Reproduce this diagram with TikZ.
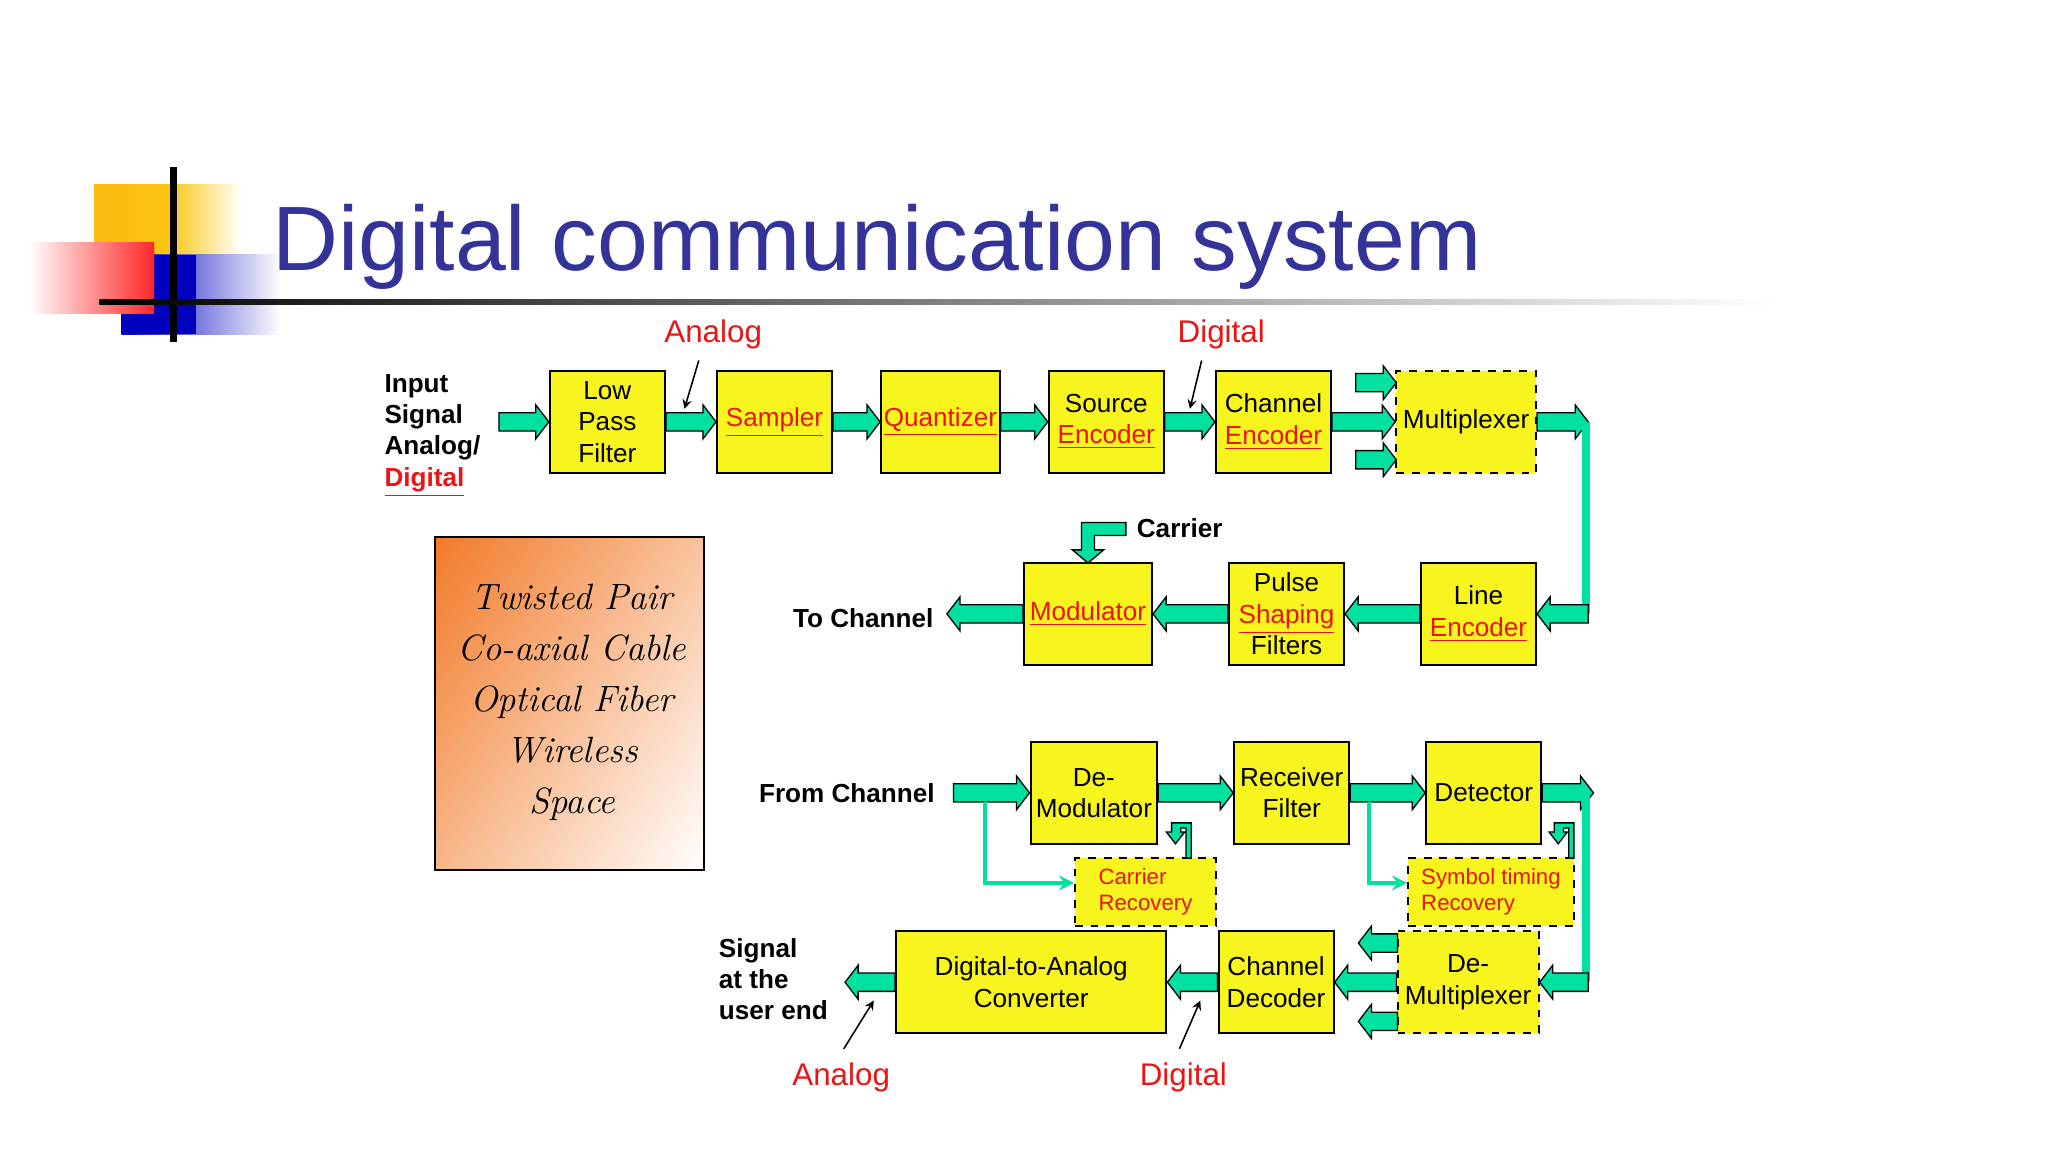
\documentclass[tikz,border=0pt]{standalone}
\usepackage{fontspec}
\setmainfont{Liberation Sans}
\usetikzlibrary{calc,shadings}
\definecolor{titleblue}{RGB}{51,51,153}
\definecolor{yel}{RGB}{248,244,30}
\definecolor{grn}{RGB}{0,224,160}
\definecolor{lred}{RGB}{235,20,20}
\definecolor{org}{RGB}{242,122,40}
\newcommand\redu[1]{\textcolor{lred}{\underline{#1}}}
\newcommand\harrow[2]{\draw[fat] let \p1=#1, \p2=#2, \n1={ifthenelse(\x2>\x1,1,-1)} in
  (\x1,\y1+3.5pt) -- (\x2-\n1*5pt,\y1+3.5pt) -- (\x2-\n1*5pt,\y1+6.5pt) -- (\x2,\y1) --
  (\x2-\n1*5pt,\y1-6.5pt) -- (\x2-\n1*5pt,\y1-3.5pt) -- (\x1,\y1-3.5pt) -- cycle;}
\begin{document}
\begin{tikzpicture}[x=0.5pt,y=-0.5pt,
  box/.style={draw, fill=yel, line width=0.8pt, align=center, inner sep=1pt,
    font=\fontsize{10}{12}\selectfont, minimum width=44pt, minimum height=39pt},
  dbox/.style={box, dashed},
  fat/.style={fill=grn, draw=black, line width=0.5pt},
  thin/.style={draw=grn, line width=1.5pt},
  lbl/.style={font=\bfseries\fontsize{10}{12}\selectfont, align=left, inner sep=0pt},
  rlbl/.style={text=lred, font=\fontsize{12}{14}\selectfont, inner sep=0pt},
  pt/.style={-stealth, line width=0.6pt}]
\useasboundingbox (0,0) rectangle (1568,882);
% decoration
\shade[left color=yel!50!orange, right color=white, middle color=yel!60!orange] (72,141) rectangle (185,230);
\shade[left color=blue!75!black, right color=white] (93,195) rectangle (215,256);
\fill[blue!75!black] (93,195) rectangle (150,256);
\shade[left color=white, right color=red!85] (22,186) rectangle (118,240);
\draw[line width=2.5pt] (133,128) -- (133,262);
\shade[left color=black, middle color=gray!70, right color=white] (76,229) rectangle (1360,233);
\node[anchor=base west, text=titleblue, font=\fontsize{35}{40}\selectfont, inner sep=0pt] (title) at (208,207) {Digital communication system};
% top row
\node[lbl, anchor=north west] (input) at (294,286) {Input\\Signal\\Analog/\\\redu{Digital}};
\node[box] (lpf) at (465,323) {Low\\Pass\\Filter};
\node[box] (samp) at (593,323) {\redu{Sampler}};
\node[box] (quant) at (720,323) {\redu{Quantizer}};
\node[box] (src) at (847,323) {Source\\\redu{Encoder}};
\node[box] (chenc) at (975,323) {Channel\\\redu{Encoder}};
\node[dbox, minimum width=53.5pt] (mux) at (1122.5,323) {Multiplexer};
\coordinate (inS) at (382,323);
\harrow{(inS)}{(lpf.west)}
\harrow{(lpf.east)}{(samp.west)}
\harrow{(samp.east)}{(quant.west)}
\harrow{(quant.east)}{(src.west)}
\harrow{(src.east)}{(chenc.west)}
\harrow{(chenc.east)}{(mux.west)}
\coordinate (m1) at (1038,293); \coordinate (m1e) at (1069,293);
\coordinate (m3) at (1038,352); \coordinate (m3e) at (1069,352);
\harrow{(m1)}{(m1e)}
\harrow{(m3)}{(m3e)}
\node[rlbl] (an1) at (546,256) {Analog};
\coordinate (an1a) at (535,276); \coordinate (an1b) at (524,313);
\draw[pt] (an1a) -- (an1b);
\node[rlbl] (dg1) at (935,256) {Digital};
\coordinate (dg1a) at (920,276); \coordinate (dg1b) at (911,313);
\draw[pt] (dg1a) -- (dg1b);
% row 2
\node[box, minimum width=49pt] (mod) at (833,470) {\redu{Modulator}};
\node[box] (pulse) at (985,470) {Pulse\\\redu{Shaping}\\Filters};
\node[box] (line) at (1132,470) {Line\\\redu{Encoder}};
\coordinate (muxo) at (1216,323);
\harrow{(mux.east)}{(muxo)}
\coordinate (lineI) at (1216,470);
\draw[grn, line width=3pt] (1214,323) -- (1214,470);
\harrow{(lineI)}{(line.east)}
\harrow{(line.west)}{(pulse.east)}
\harrow{(pulse.west)}{(mod.east)}
\coordinate (toch) at (725,470);
\harrow{(mod.west)}{(toch)}
\node[lbl, anchor=east] (tochl) at (715,473) {To Channel};
\draw[fat] (862,400) -- (862,410) -- (838,410) -- (838,421) -- (845,421) -- (833,431) -- (821,421) -- (828,421) -- (828,400) -- cycle;
\node[lbl, anchor=west] (carr) at (870,404) {Carrier};
% media box
\shade[upper left=org, upper right=org!45!white, lower left=org!55!white, lower right=white] (333,411) rectangle (539,666);
\draw[line width=0.6pt] (333,411) rectangle (539,666);
\node[align=center, font=\fontfamily{lmr}\itshape\fontsize{14}{19.5}\selectfont, inner sep=0pt] (media) at (438,538)
  {Twisted Pair\\Co-axial Cable\\Optical Fiber\\Wireless\\Space};
% row 3
\node[box, minimum width=48.5pt] (demod) at (837.5,607) {De-\\Modulator};
\node[box] (rf) at (989,607) {Receiver\\Filter};
\node[box] (det) at (1136,607) {Detector};
\node[dbox, minimum width=54pt, minimum height=26pt, font=\fontsize{8.5}{10}\selectfont, text=lred, align=left] (cr) at (877,683) {Carrier\\Recovery};
\node[dbox, minimum width=63.5pt, minimum height=26pt, font=\fontsize{8.5}{10}\selectfont, text=lred, align=left] (str) at (1141.5,683) {Symbol timing\\Recovery};
\node[lbl, anchor=east] (fromch) at (716,607) {From Channel};
\coordinate (fc) at (730,607);
\harrow{(fc)}{(demod.west)}
\harrow{(demod.east)}{(rf.west)}
\harrow{(rf.east)}{(det.west)}
\coordinate (deto) at (1220,607);
\harrow{(det.east)}{(deto)}
\draw[grn, line width=3pt] (1214,607) -- (1214,752);
\draw[thin, -stealth] (754,614) -- (754,676) -- (cr.west |- 0,676);
\draw[thin, -stealth] (1048,614) -- (1048,676) -- (str.west |- 0,676);
\draw[fat] (912,657) -- (912,630) -- (897,630) -- (897,637) -- (893,637) -- (900,646) -- (907,637) -- (904,637) -- (904,634) -- (908,634) -- (908,657) -- cycle;
\draw[fat] (1205,657) -- (1205,630) -- (1190,630) -- (1190,637) -- (1186,637) -- (1193,646) -- (1200,637) -- (1197,637) -- (1197,634) -- (1201,634) -- (1201,657) -- cycle;
% row 4
\node[box, minimum width=103.5pt] (dac) at (789.5,752) {Digital-to-Analog\\Converter};
\node[box] (chdec) at (977,752) {Channel\\Decoder};
\node[dbox, minimum width=54pt] (demux) at (1124,752) {De-\\Multiplexer};
\coordinate (dmi) at (1216,752);
\harrow{(dmi)}{(demux.east)}
\harrow{(demux.west)}{(chdec.east)}
\coordinate (d1) at (1070,722); \coordinate (d1e) at (1040,722);
\coordinate (d3) at (1070,782); \coordinate (d3e) at (1040,782);
\harrow{(d1)}{(d1e)}
\harrow{(d3)}{(d3e)}
\harrow{(chdec.west)}{(dac.east)}
\coordinate (usr) at (647,752);
\harrow{(dac.west)}{(usr)}
\node[lbl, anchor=north west] (sig) at (550,718) {Signal\\at the\\user end};
\node[rlbl] (an2) at (644,825) {Analog};
\coordinate (an2a) at (646,803); \coordinate (an2b) at (669,766);
\draw[pt] (an2a) -- (an2b);
\node[rlbl] (dg2) at (906,825) {Digital};
\coordinate (dg2a) at (903,803); \coordinate (dg2b) at (919,766);
\draw[pt] (dg2a) -- (dg2b);
\end{tikzpicture}
\end{document}
